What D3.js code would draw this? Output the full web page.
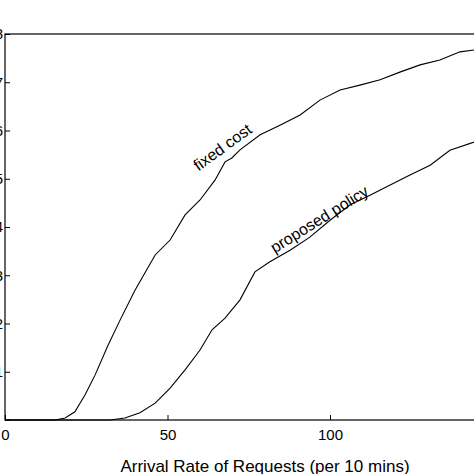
<!DOCTYPE html>
<html><head><meta charset="utf-8">
<script src="https://cdn.jsdelivr.net/npm/d3@7"></script>
<style>body{margin:0;background:#fff}svg{display:block;font-family:"Liberation Sans",Arial,sans-serif}</style>
</head><body><div id="chart"></div>
<script>
const width = 474, height = 474,
    margin = ({top: 34, right: 0, bottom: 54, left: 5});

// fixed cost curve
const fixedX = [0, 15.4, 18.5, 21.5, 24.6, 27.7, 31.7, 35.4, 40, 46.2, 50.8, 55.4, 60, 64.6, 67.7, 69.8, 72.3, 78.5, 84.6, 90.8, 96.9, 103.1, 109.2, 115.4, 121.5, 127.7, 133.8, 140, 144.3];
const fixedY = [0, 0, .004, .017, .052, .093, .155, .207, .269, .342, .373, .425, .456, .497, .535, .543, .56, .591, .611, .632, .663, .684, .694, .705, .721, .736, .746, .763, .767];
// proposed policy curve
const propX = [0, 32.3, 36.9, 41.5, 46.2, 50.8, 55.4, 60, 63.7, 67.7, 72.3, 76.9, 81.5, 87.7, 93.8, 100, 106.2, 112.3, 118.5, 124.6, 130.8, 136.9, 144.3];
const propY = [0, 0, .004, .015, .035, .066, .104, .145, .187, .211, .249, .307, .328, .352, .379, .414, .446, .466, .487, .508, .528, .559, .576];
const xTicks = [0, 50, 100];
const yTicks = [0, 0.1, 0.2, 0.3, 0.4, 0.5, 0.6, 0.7, 0.8];

const svg = d3.select("#chart").append("svg")
    .attr("width", width).attr("height", height);

let x = d3.scaleLinear().domain([0, 144.3]).range([margin.left, width - margin.right]);
let y = d3.scaleLinear().domain([0, 0.8]).range([height - margin.bottom, margin.top]);

// frame
svg.append("rect")
    .attr("x", margin.left).attr("y", margin.top)
    .attr("width", width - margin.left - margin.right + 2)
    .attr("height", height - margin.top - margin.bottom)
    .attr("fill", "none").attr("stroke", "#000").attr("stroke-width", 1.2);

svg.append("g")
    .attr("transform", `translate(0,${height - margin.bottom})`)
    .call(d3.axisBottom(x).tickValues(xTicks).tickSize(-5).tickPadding(9).tickFormat(d3.format("d")))
    .call(g => g.select(".domain").remove())
    .call(g => g.selectAll("text").attr("font-size", 15).attr("font-family", "Liberation Sans"));

svg.append("g")
    .attr("transform", `translate(${margin.left},0)`)
    .call(d3.axisLeft(y).tickValues(yTicks).tickSize(-5).tickPadding(2).tickFormat(d => d === 0 ? "" : d3.format(".1f")(d)))
    .call(g => g.select(".domain").remove())
    .call(g => g.selectAll("text").attr("font-size", 15).attr("font-family", "Liberation Sans"));

let line = d3.line().x(d => x(d[0])).y(d => y(d[1]));

svg.append("path").datum(d3.zip(fixedX, fixedY))
    .attr("d", line).attr("fill", "none").attr("stroke", "#000").attr("stroke-width", 1.1);
svg.append("path").datum(d3.zip(propX, propY))
    .attr("d", line).attr("fill", "none").attr("stroke", "#000").attr("stroke-width", 1.1);

/* labels */
svg.append("text")
    .attr("transform", `translate(${x(59.5)},${y(0.515)}) rotate(-36)`)
    .attr("font-size", 16).text("fixed cost");
svg.append("text")
    .attr("transform", `translate(${x(83)},${y(0.345)}) rotate(-32)`)
    .attr("font-size", 16).text("proposed policy");

svg.append("text")
    .attr("x", 265).attr("y", height - 2)
    .attr("text-anchor", "middle").attr("font-size", 17)
    .text("Arrival Rate of Requests (per 10 mins)");
</script></body></html>
